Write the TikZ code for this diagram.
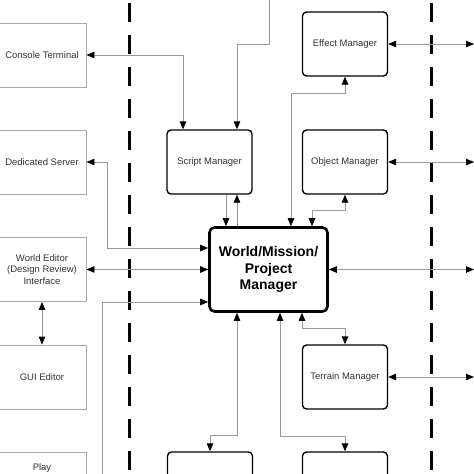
\documentclass[tikz,border=0pt]{standalone}
\usepackage{fontspec}
\setmainfont{Liberation Sans}
\usetikzlibrary{arrows.meta}
\definecolor{lbl}{HTML}{333333}
\definecolor{conncol}{HTML}{9A9A9A}
\definecolor{extcol}{HTML}{A8A8A8}
\tikzset{
  mgr/.style={draw=black, line width=1.4pt, rounded corners=4pt, minimum width=85pt, minimum height=64pt, inner sep=1pt, align=center, text=lbl, font=\fontsize{9.5}{11.5}\selectfont},
  wmgr/.style={draw=black, line width=2.6pt, rounded corners=5pt, minimum width=118pt, minimum height=84pt, inner sep=1pt, align=center, font=\fontsize{14}{16.8}\selectfont\bfseries},
  extbox/.style={draw=extcol, line width=0.9pt, minimum width=88pt, minimum height=64pt, inner sep=1pt, align=center, text=lbl, font=\fontsize{9.5}{11.5}\selectfont},
  conn/.style={draw=conncol, line width=0.9pt},
  dashline/.style={draw=black, line width=3pt, dash pattern=on 19pt off 13pt},
  >={Triangle[color=black,length=8pt,width=6.5pt]}
}
\begin{document}
\begin{tikzpicture}[x=1pt,y=-1pt]
\path[use as bounding box] (0,0) rectangle (474,474);
\clip (0,0) rectangle (474,474);
% dashed separators
\draw[dashline] (129,3) -- (129,490);
\draw[dashline] (431,3) -- (431,490);
% external boxes
\node[extbox] (ct) at (42,55) {Console Terminal};
\node[extbox] (ds) at (42,162) {Dedicated Server};
\node[extbox] (we) at (42,269.5) {World Editor\\(Design Review)\\Interface};
\node[extbox] (gui) at (42,377) {GUI Editor};
\node[extbox] (play) at (42,484) {};
\node[text=lbl, font=\fontsize{9.5}{11.5}\selectfont, anchor=base, inner sep=0pt] (playlbl) at (42,470.5) {Play};
% managers
\node[mgr] (sm) at (209.5,162) {Script Manager};
\node[mgr] (em) at (345,44) {Effect Manager};
\node[mgr] (om) at (345,162) {Object Manager};
\node[mgr] (tm) at (345,377) {Terrain Manager};
\node[mgr] (b1) at (210,484) {};
\node[mgr] (b2) at (345,484) {};
\node[wmgr] (wm) at (268.5,269.5) {World/Mission/\\Project\\Manager};
% free ends
\coordinate (topin) at (269,-5);
\coordinate (er1) at (474,44);
\coordinate (er2) at (474,162);
\coordinate (er3) at (474,269.5);
\coordinate (er4) at (474,377);
\coordinate (playin) at (102,490);
% connectors
\draw[conn,<->] (ct.east) -| ([xshift=-26.5pt]sm.north);
\draw[conn,->] (topin) -- (269,44) -| ([xshift=27.5pt]sm.north);
\draw[conn,<->] (em.east) -- (er1);
\draw[conn,<->] (om.east) -- (er2);
\draw[conn,<->] (wm.east) -- (er3);
\draw[conn,<->] (tm.east) -- (er4);
\draw[conn,<->] (em.south) -- ++(0,17) -| ([xshift=22.5pt]wm.north);
\draw[conn,<->] (om.south) -- ++(0,16) -| ([xshift=43.5pt]wm.north);
\draw[conn,->] ([xshift=16.5pt]sm.south) -- ([xshift=-42.5pt]wm.north);
\draw[conn,->] ([xshift=-31.5pt]wm.north) -- ([xshift=27.5pt]sm.south);
\draw[conn,<->] (ds.east) -- ++(21,0) |- (wm.west |- 0,248);
\draw[conn,<->] (we.east) -- (wm.west);
\draw[conn,->] (playin) |- (wm.west |- 0,302);
\draw[conn,<->] (we.south) -- (gui.north);
\draw[conn,<->] ([xshift=-31.5pt]wm.south) -- ++(0,123) -| (b1.north);
\draw[conn,<->] ([xshift=11.5pt]wm.south) -- ++(0,124) -| (b2.north);
\draw[conn,<->] ([xshift=33.5pt]wm.south) -- ++(0,16) -| (tm.north);
\end{tikzpicture}
\end{document}
